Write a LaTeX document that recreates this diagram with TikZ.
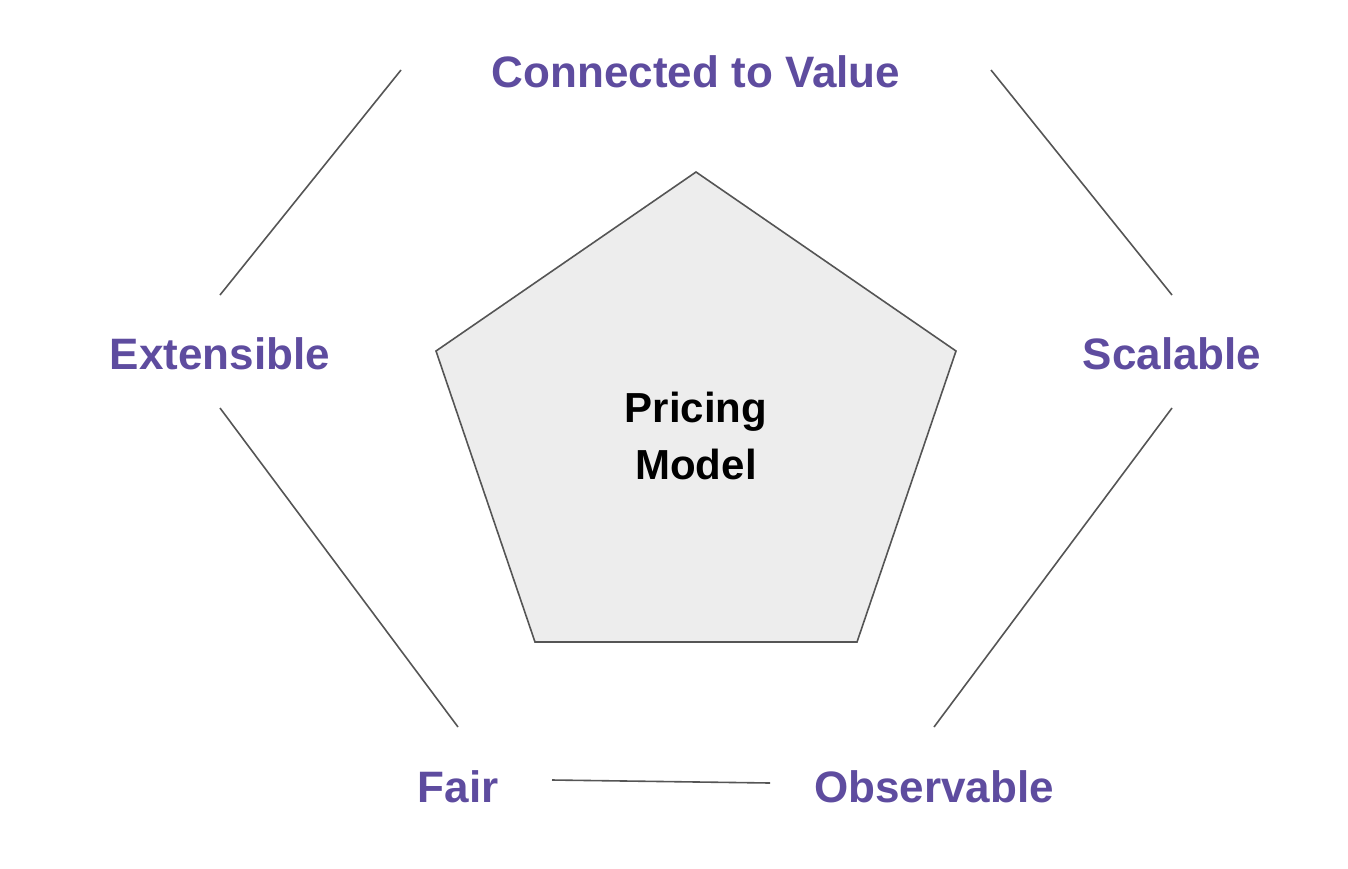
\documentclass[tikz,border=0pt]{standalone}
\usepackage{fontspec}
\setmainfont{Liberation Sans}
\definecolor{lab}{HTML}{5E4C9F}
\definecolor{ln}{HTML}{555555}
\begin{document}
\begin{tikzpicture}[x=1pt,y=-1pt,
  lbl/.style={text=lab,font=\fontsize{44}{50}\selectfont\bfseries,inner sep=0pt},
  edge/.style={draw=ln,line width=1.6pt}]
\useasboundingbox (0,0) rectangle (1348,868);
\draw[edge,fill=black!7,line join=miter] (696,172) -- (956,351) -- (857,642) -- (535,642) -- (436,351) -- cycle;
\node[inner sep=0pt,align=center,font=\fontsize{42}{57}\selectfont\bfseries] (pm) at (696,436) {Pricing\\Model};
\node[lbl] (cv) at (696,72) {Connected to Value};
\node[lbl] (ex) at (220,354) {Extensible};
\node[lbl] (sc) at (1172,354) {Scalable};
\node[lbl] (fa) at (458,787) {Fair};
\node[lbl] (ob) at (934,787) {Observable};
\coordinate (a1) at (401,70); \coordinate (a2) at (220,295);
\coordinate (b1) at (991,70); \coordinate (b2) at (1172,295);
\coordinate (c1) at (220,408); \coordinate (c2) at (458,727);
\coordinate (d1) at (1172,408); \coordinate (d2) at (934,727);
\coordinate (e1) at (552,780); \coordinate (e2) at (770,783);
\draw[edge] (a1) -- (a2);
\draw[edge] (b1) -- (b2);
\draw[edge] (c1) -- (c2);
\draw[edge] (d1) -- (d2);
\draw[edge] (e1) -- (e2);
\end{tikzpicture}
\end{document}
